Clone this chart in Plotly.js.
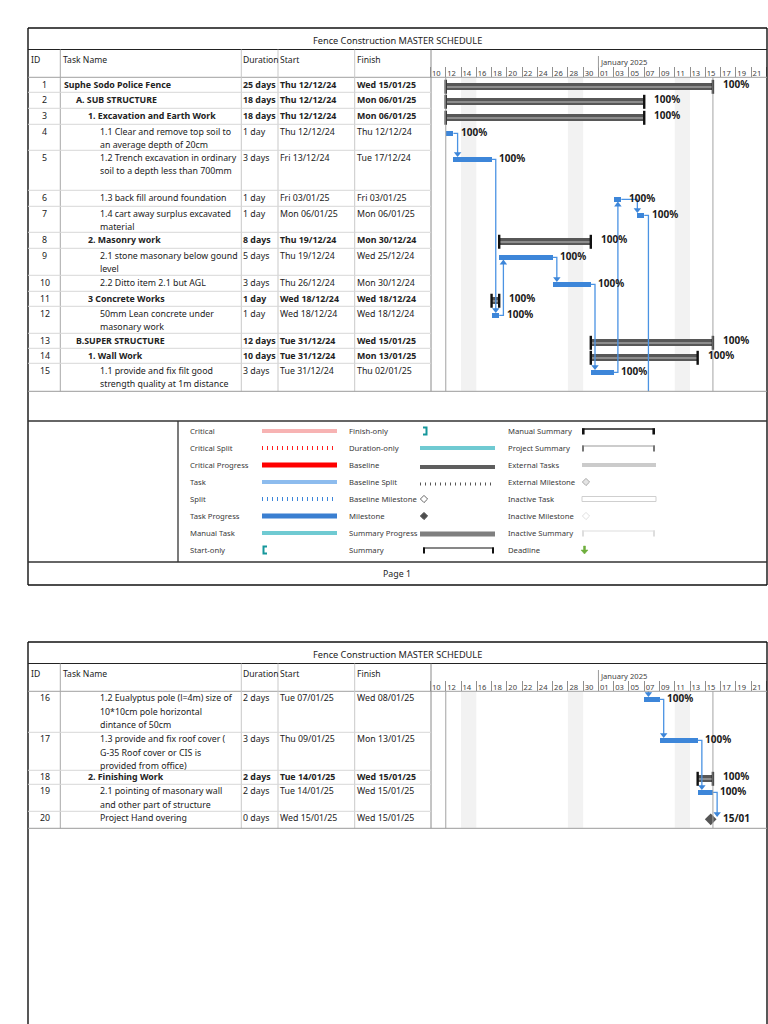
<!DOCTYPE html>
<html>
<head>
<meta charset="utf-8">
<title>Fence Construction MASTER SCHEDULE</title>
<script src="https://cdn.plot.ly/plotly-3.0.1.min.js"></script>
<style>
html,body{margin:0;padding:0;background:#ffffff;}
#chart{width:768px;height:1024px;}
</style>
</head>
<body>
<div id="chart"></div>
<script>
// ================= DATA =================
const chartTitle = 'Fence Construction MASTER SCHEDULE';
const columnHeaders = ['ID', 'Task Name', 'Duration', 'Start', 'Finish'];
const monthLabel = 'January 2025';
const pageLabel = 'Page 1';

const taskIds = [1, 2, 3, 4, 5, 6, 7, 8, 9, 10, 11, 12, 13, 14, 15, 16, 17, 18, 19, 20];
const taskNames = [
  'Suphe Sodo Police Fence',
  'A. SUB STRUCTURE',
  '1. Excavation and Earth Work',
  '1.1 Clear and remove top soil to\nan average depth of 20cm',
  '1.2 Trench excavation in ordinary\nsoil to a depth less than 700mm',
  '1.3 back fill around foundation',
  '1.4 cart away surplus excavated\nmaterial',
  '2. Masonry work',
  '2.1 stone masonary below gound\nlevel',
  '2.2 Ditto item 2.1 but AGL',
  '3 Concrete Works',
  '50mm Lean concrete under\nmasonary work',
  'B.SUPER STRUCTURE',
  '1. Wall Work',
  '1.1 provide and fix filt good\nstrength quality at 1m distance',
  '1.2 Eualyptus pole (l=4m) size of\n10*10cm pole horizontal\ndintance of 50cm',
  '1.3 provide and fix roof cover (\nG-35 Roof cover or CIS is\nprovided from office)',
  '2. Finishing Work',
  '2.1 pointing of masonary wall\nand other part of structure',
  'Project Hand overing'
];
const outlineLevel = [0, 1, 2, 3, 3, 3, 3, 2, 3, 3, 2, 3, 1, 2, 3, 3, 3, 2, 3, 3];
const summaryTask = [1, 1, 1, 0, 0, 0, 0, 1, 0, 0, 1, 0, 1, 1, 0, 0, 0, 1, 0, 0];
const durationText = ['25 days', '18 days', '18 days', '1 day', '3 days', '1 day', '1 day', '8 days', '5 days', '3 days',
  '1 day', '1 day', '12 days', '10 days', '3 days', '2 days', '3 days', '2 days', '2 days', '0 days'];
const startText = ['Thu 12/12/24', 'Thu 12/12/24', 'Thu 12/12/24', 'Thu 12/12/24', 'Fri 13/12/24', 'Fri 03/01/25',
  'Mon 06/01/25', 'Thu 19/12/24', 'Thu 19/12/24', 'Thu 26/12/24', 'Wed 18/12/24', 'Wed 18/12/24', 'Tue 31/12/24',
  'Tue 31/12/24', 'Tue 31/12/24', 'Tue 07/01/25', 'Thu 09/01/25', 'Tue 14/01/25', 'Tue 14/01/25', 'Wed 15/01/25'];
const finishText = ['Wed 15/01/25', 'Mon 06/01/25', 'Mon 06/01/25', 'Thu 12/12/24', 'Tue 17/12/24', 'Fri 03/01/25',
  'Mon 06/01/25', 'Mon 30/12/24', 'Wed 25/12/24', 'Mon 30/12/24', 'Wed 18/12/24', 'Wed 18/12/24', 'Wed 15/01/25',
  'Mon 13/01/25', 'Thu 02/01/25', 'Wed 08/01/25', 'Mon 13/01/25', 'Wed 15/01/25', 'Wed 15/01/25', 'Wed 15/01/25'];
const percentComplete = [100, 100, 100, 100, 100, 100, 100, 100, 100, 100, 100, 100, 100, 100, 100, 100, 100, 100, 100, 100];
const predecessorIds = [[], [], [], [], [4], [15], [6], [], [12], [9], [], [5], [], [], [10], [7], [16], [], [17], [19]];
const shadedNonWorking = ['2024-12-14', '2024-12-28', '2025-01-11'];   // two-day shaded periods

const legendLabels = [
  ['Critical', 'Critical Split', 'Critical Progress', 'Task', 'Split', 'Task Progress', 'Manual Task', 'Start-only'],
  ['Finish-only', 'Duration-only', 'Baseline', 'Baseline Split', 'Baseline Milestone', 'Milestone', 'Summary Progress', 'Summary'],
  ['Manual Summary', 'Project Summary', 'External Tasks', 'External Milestone', 'Inactive Task', 'Inactive Milestone', 'Inactive Summary', 'Deadline']
];

// ================= LAYOUT / STYLE =================
const W = 768, H = 1024;
const DAY = 86400000;
const FONT = '"Noto Sans", "Open Sans", sans-serif';
const TXT = '#222222';
const BLUE = '#3d86d9';
const TABLE_FS = 8.8;
const px = x => x / W;

const rowHeight = [15, 16, 16, 26, 40, 16, 26, 16, 27, 16, 15, 27, 15, 15, 28, 41, 38, 14, 27, 17];
const pageOf = taskIds.map(id => (id <= 15 ? 0 : 1));
const pageCfg = [
  { top: 28, bottom: 585, lineOffset: 8, lineGap: 12.4, xa: 'x', xref: 'x' },
  { top: 642, bottom: 1024, lineOffset: 7, lineGap: 13.2, xa: 'x2', xref: 'x2' }
];
pageCfg.forEach(p => {
  p.titleY = p.top + 12.3; p.titleLine = p.top + 21.5; p.headY = p.top + 32.3;
  p.monthY = p.top + 34.4; p.headerBottom = p.top + 49.3;
});
const colLineX = [60.3, 241.3, 278, 354.7];
const ganttLeft = 431, frameL = 28, frameR = 767;
const textX = { id: 44.5, name: 62.5, indent: 12, dur: 242, start: 279, finish: 355.5 };
const headX = [29.5, 62, 242, 279, 355.5];

// ================= HELPERS =================
function dayMs(s) {
  const d = s.split(' ')[1].split('/');
  return Date.UTC(2000 + Number(d[2]), Number(d[1]) - 1, Number(d[0]));
}
function iso(ms) {
  const d = new Date(ms), p = n => String(n).padStart(2, '0');
  return d.getUTCFullYear() + '-' + p(d.getUTCMonth() + 1) + '-' + p(d.getUTCDate()) + ' ' + p(d.getUTCHours()) + ':' + p(d.getUTCMinutes());
}
const shapes = [], annotations = [];
function hline(x0, x1, y, color, width) {
  shapes.push({ type: 'line', xref: 'paper', yref: 'y', x0: px(x0), x1: px(x1), y0: y, y1: y, line: { color, width } });
}
function vline(x, y0, y1, color, width) {
  shapes.push({ type: 'line', xref: 'paper', yref: 'y', x0: px(x), x1: px(x), y0, y1, line: { color, width } });
}
function label(x, y, t, o = {}) {
  annotations.push({
    xref: 'paper', yref: 'y', x: px(x), y, text: t, showarrow: false,
    xanchor: o.anchor || 'left', yanchor: 'middle', borderpad: 0,
    font: { family: FONT, size: o.size || TABLE_FS, color: o.color || TXT, weight: o.bold ? 'bold' : 'normal' }
  });
}

// ================= DERIVED VALUES =================
const isMilestone = durationText.map(d => parseFloat(d) === 0);
const startMs = startText.map(dayMs);
const endMs = finishText.map((f, i) => (isMilestone[i] ? dayMs(f) + 17 * 3600000 : dayMs(f) + DAY));

const rowTop = [], textY = [], barY = [];
const cursor = pageCfg.map(p => p.headerBottom);
taskIds.forEach((id, i) => {
  const pg = pageOf[i];
  rowTop[i] = cursor[pg];
  cursor[pg] += rowHeight[i];
  textY[i] = rowTop[i] + pageCfg[pg].lineOffset;
  barY[i] = textY[i] + (summaryTask[i] ? 1.5 : 1);
});
pageCfg.forEach((p, k) => { p.tableBottom = cursor[k]; });

// ================= FRAMES, GRID, TABLE TEXT =================
pageCfg.forEach((p, k) => {
  hline(frameL, frameR, p.top, '#111', 1.4);
  vline(frameL, p.top, p.bottom, '#111', 1.4);
  vline(frameR, p.top, p.bottom, '#111', 1.4);
  if (k === 0) hline(frameL, frameR, p.bottom, '#111', 1.4);
  hline(frameL, frameR, p.titleLine, '#222', 1.1);
  hline(frameL, frameR, p.headerBottom, '#a0a0a0', 1);
  colLineX.forEach((x, j) => vline(x, p.titleLine, p.tableBottom, j === 0 ? '#a8a8a8' : '#c9c9c9', 1));
  vline(ganttLeft, p.titleLine, p.tableBottom, '#8a8a8a', 1);
  hline(frameL, frameR, p.tableBottom, '#9a9a9a', 1);

  label(397.5, p.titleY, chartTitle, { anchor: 'center', size: 9.2 });
  columnHeaders.forEach((h, j) => label(headX[j], p.headY, h, { size: 8.6 }));

  annotations.push({
    xref: p.xref, yref: 'y', x: '2025-01-01', y: p.monthY, text: monthLabel, showarrow: false,
    xanchor: 'left', yanchor: 'middle', xshift: 1, borderpad: 0,
    font: { family: FONT, size: 7.6, color: '#444' }
  });
  shapes.push({ type: 'line', xref: p.xref, yref: 'y', x0: '2025-01-01', x1: '2025-01-01',
    y0: p.top + 28, y1: p.top + 40, line: { color: '#9a9a9a', width: 1 } });

  shadedNonWorking.forEach(d => {
    const s = Date.parse(d + 'T00:00:00Z');
    shapes.push({ type: 'rect', xref: p.xref, yref: 'y', layer: 'below', x0: iso(s), x1: iso(s + 2 * DAY),
      y0: p.headerBottom + 0.5, y1: p.tableBottom - 0.5, fillcolor: '#f2f2f2', line: { width: 0 } });
  });
  [startMs[0], endMs[0]].forEach(t => {
    shapes.push({ type: 'line', xref: p.xref, yref: 'y', x0: iso(t), x1: iso(t),
      y0: p.headerBottom, y1: p.tableBottom, line: { color: '#a3a3a3', width: 1 } });
  });
});

taskIds.forEach((id, i) => {
  const p = pageCfg[pageOf[i]];
  const bold = !!summaryTask[i];
  const bottom = rowTop[i] + rowHeight[i];
  if (bottom < p.tableBottom - 0.5) hline(frameL, ganttLeft, bottom, '#d7d7d7', 1);
  label(textX.id, textY[i], String(id), { anchor: 'center' });
  taskNames[i].split('\n').forEach((ln, j) =>
    label(textX.name + textX.indent * outlineLevel[i], textY[i] + j * p.lineGap, ln, { bold }));
  label(textX.dur, textY[i], durationText[i], { bold });
  label(textX.start, textY[i], startText[i], { bold });
  label(textX.finish, textY[i], finishText[i], { bold });
});

// ================= GANTT TRACES =================
const traces = [];
[0, 1].forEach(pg => {
  const xa = pageCfg[pg].xa;
  const idx = taskIds.map((_, i) => i).filter(i => pageOf[i] === pg);
  const sum = idx.filter(i => summaryTask[i] && !isMilestone[i]);
  const tsk = idx.filter(i => !summaryTask[i] && !isMilestone[i]);
  const ms = idx.filter(i => isMilestone[i]);

  const cx = [], cy = [], ax = [], ay = [], asym = [];
  idx.forEach(i => {
    predecessorIds[i].forEach(pid => {
      const j = taskIds.indexOf(pid);
      const xV = Math.max(endMs[j] + 0.55 * DAY, startMs[i] + 0.1 * DAY);
      const down = pageOf[j] !== pageOf[i] || barY[i] > barY[j];
      const yEnd = down ? barY[i] - 5.5 : barY[i] + 5.5;
      if (pageOf[j] === pg) {
        cx.push(iso(endMs[j]), iso(xV), iso(xV), null);
        cy.push(barY[j], barY[j], yEnd, null);
      } else {
        cx.push(iso(xV), iso(xV), null);
        cy.push(pageCfg[pg].headerBottom, yEnd, null);
      }
      ax.push(iso(xV)); ay.push(yEnd); asym.push(down ? 'triangle-down' : 'triangle-up');
    });
  });
  taskIds.forEach((id, i) => {
    if (pageOf[i] === pg) return;
    predecessorIds[i].forEach(pid => {
      const j = taskIds.indexOf(pid);
      if (pageOf[j] !== pg) return;
      const xV = Math.max(endMs[j] + 0.55 * DAY, startMs[i] + 0.1 * DAY);
      cx.push(iso(endMs[j]), iso(xV), iso(xV), null);
      cy.push(barY[j], barY[j], pageCfg[pg].tableBottom, null);
    });
  });
  traces.push({ type: 'scatter', mode: 'lines', xaxis: xa, yaxis: 'y', x: cx, y: cy,
    line: { color: '#4b93e3', width: 1.3 }, hoverinfo: 'skip', showlegend: false });
  traces.push({ type: 'scatter', mode: 'markers', xaxis: xa, yaxis: 'y', x: ax, y: ay,
    marker: { symbol: asym, size: 6.5, color: BLUE }, hoverinfo: 'skip', showlegend: false });

  traces.push({ type: 'bar', orientation: 'h', xaxis: xa, yaxis: 'y', width: 7,
    y: sum.map(i => barY[i]), base: sum.map(i => iso(startMs[i])), x: sum.map(i => endMs[i] - startMs[i]),
    marker: { color: '#575757', line: { width: 0 } }, hoverinfo: 'skip', showlegend: false });
  traces.push({ type: 'bar', orientation: 'h', xaxis: xa, yaxis: 'y', width: 2.6,
    y: sum.map(i => barY[i]), base: sum.map(i => iso(startMs[i])), x: sum.map(i => endMs[i] - startMs[i]),
    marker: { color: '#8d8d8d', line: { width: 0 } }, hoverinfo: 'skip', showlegend: false });
  traces.push({ type: 'scatter', mode: 'markers', xaxis: xa, yaxis: 'y',
    x: sum.flatMap(i => [iso(startMs[i]), iso(endMs[i])]), y: sum.flatMap(i => [barY[i], barY[i]]),
    marker: { symbol: 'line-ns', size: 10, line: { color: '#111', width: 2.4 } }, hoverinfo: 'skip', showlegend: false });

  traces.push({ type: 'bar', orientation: 'h', xaxis: xa, yaxis: 'y', width: 5,
    y: tsk.map(i => barY[i]), base: tsk.map(i => iso(startMs[i])), x: tsk.map(i => endMs[i] - startMs[i]),
    marker: { color: BLUE, line: { width: 0 } }, hoverinfo: 'skip', showlegend: false });

  traces.push({ type: 'scatter', mode: 'markers', xaxis: xa, yaxis: 'y',
    x: ms.map(i => iso(endMs[i])), y: ms.map(i => barY[i]),
    marker: { symbol: 'diamond', size: 9, color: '#555555' }, hoverinfo: 'skip', showlegend: false });

  idx.forEach(i => {
    const d = new Date(dayMs(finishText[i]));
    const txt = isMilestone[i]
      ? String(d.getUTCDate()).padStart(2, '0') + '/' + String(d.getUTCMonth() + 1).padStart(2, '0')
      : percentComplete[i] + '%';
    annotations.push({
      xref: xa, yref: 'y', x: iso(endMs[i]), y: barY[i], text: txt, showarrow: false,
      xanchor: 'left', yanchor: 'middle', borderpad: 0,
      xshift: isMilestone[i] ? 11 : (summaryTask[i] ? 9 : 6.5), yshift: summaryTask[i] ? 2.5 : 1,
      font: { family: FONT, size: 10, color: '#1a1a1a', weight: 'bold' }
    });
  });
});

// ================= LEGEND (page 1) =================
const legTop = 421, legBottom = 562;
hline(frameL, frameR, legTop, '#333', 1.3);
hline(frameL, frameR, legBottom, '#333', 1.3);
vline(178, legTop, legBottom, '#333', 1.3);
label(397, 573.5, pageLabel, { anchor: 'center', size: 8.8 });

const legStyle = [
  [{ k: 'bar', c: '#f7b3b3', h: 4 }, { k: 'split', c: '#ff1f1f' }, { k: 'bar', c: '#ff0000', h: 5 }, { k: 'bar', c: '#8dbcee', h: 4 },
   { k: 'split', c: '#3d86d9' }, { k: 'bar', c: '#3a7fd1', h: 5 }, { k: 'bar', c: '#6fcad2', h: 4 }, { k: 'start', c: '#16979c' }],
  [{ k: 'finish', c: '#16979c' }, { k: 'bar', c: '#6fcad2', h: 4 }, { k: 'bar', c: '#5e5e5e', h: 4, dy: 2 }, { k: 'split', c: '#555', dy: 2, w: 3 },
   { k: 'diamond', fill: '#ffffff', line: '#666' }, { k: 'diamond', fill: '#4d4d4d', line: '#4d4d4d' }, { k: 'bar', c: '#7f7f7f', h: 5, dy: 1 },
   { k: 'summary', c: '#111', cap: '#111', inset: 3 }],
  [{ k: 'summary', c: '#222', cap: '#111', thick: true }, { k: 'summary', c: '#9a9a9a', cap: '#777' }, { k: 'bar', c: '#cbcbcb', h: 4 },
   { k: 'diamond', fill: '#e4e4e4', line: '#a8a8a8' }, { k: 'outline', c: '#cfcfcf' }, { k: 'diamond', fill: '#ffffff', line: '#e0e0e0' },
   { k: 'summary', c: '#dedede', cap: '#dedede' }, { k: 'deadline', c: '#6eae3c' }]
];
const legLabelX = [189, 348, 507], legX0 = [262, 420, 582], legX1 = [337, 495, 656];
const path = (pts, close) => pts.map((p, i) => (i ? 'L' : 'M') + px(p[0]).toFixed(5) + ',' + p[1]).join(' ') + (close ? ' Z' : '');
legendLabels.forEach((col, c) => col.forEach((lab, r) => {
  const y = 431 + 17 * r;
  label(legLabelX[c], y, lab, { size: 7.7, color: '#3a3a3a' });
  const s = legStyle[c][r], x0 = legX0[c], x1 = legX1[c], dy = s.dy || 0;
  if (s.k === 'bar') {
    shapes.push({ type: 'rect', xref: 'paper', yref: 'y', x0: px(x0), x1: px(x1), y0: y + dy - s.h / 2, y1: y + dy + s.h / 2, fillcolor: s.c, line: { width: 0 } });
  } else if (s.k === 'split') {
    shapes.push({ type: 'line', xref: 'paper', yref: 'y', x0: px(x0), x1: px(x1), y0: y + dy, y1: y + dy, line: { color: s.c, width: s.w || 4, dash: '1px,4px' } });
  } else if (s.k === 'outline') {
    shapes.push({ type: 'rect', xref: 'paper', yref: 'y', x0: px(x0), x1: px(x1), y0: y - 2.5, y1: y + 2.5, fillcolor: '#fff', line: { color: s.c, width: 1 } });
  } else if (s.k === 'start') {
    shapes.push({ type: 'path', xref: 'paper', yref: 'y', path: path([[x0 + 5, y - 3.5], [x0 + 1.5, y - 3.5], [x0 + 1.5, y + 3.5], [x0 + 5, y + 3.5]]), line: { color: s.c, width: 2 } });
  } else if (s.k === 'finish') {
    shapes.push({ type: 'path', xref: 'paper', yref: 'y', path: path([[x0 + 3, y - 3.5], [x0 + 6.5, y - 3.5], [x0 + 6.5, y + 3.5], [x0 + 3, y + 3.5]]), line: { color: s.c, width: 2 } });
  } else if (s.k === 'diamond') {
    const cx = x0 + 4, r = 3.6;
    shapes.push({ type: 'path', xref: 'paper', yref: 'y', path: path([[cx, y - r], [cx + r, y], [cx, y + r], [cx - r, y]], true), fillcolor: s.fill, line: { color: s.line, width: 1 } });
  } else if (s.k === 'summary') {
    const a = x0 + (s.inset || 0), b = x1 - 1, cw = s.thick ? 2.6 : 2;
    shapes.push({ type: 'line', xref: 'paper', yref: 'y', x0: px(a), x1: px(b), y0: y - 2, y1: y - 2, line: { color: s.c, width: s.thick ? 1.6 : 1.2 } });
    shapes.push({ type: 'rect', xref: 'paper', yref: 'y', x0: px(a), x1: px(a + cw), y0: y - 2.6, y1: y + 3.5, fillcolor: s.cap, line: { width: 0 } });
    shapes.push({ type: 'rect', xref: 'paper', yref: 'y', x0: px(b - cw), x1: px(b), y0: y - 2.6, y1: y + 3.5, fillcolor: s.cap, line: { width: 0 } });
  } else if (s.k === 'deadline') {
    const cx = x0 + 2.5;
    shapes.push({ type: 'path', xref: 'paper', yref: 'y', path: path([[cx - 1, y - 4], [cx + 1, y - 4], [cx + 1, y], [cx + 3.5, y], [cx, y + 4], [cx - 3.5, y], [cx - 1, y]], true), fillcolor: s.c, line: { color: s.c, width: 0.5 } });
  }
}));

// ================= AXES =================
const timeAxis = (pos, extra) => Object.assign({
  type: 'date', domain: [px(430.5), px(767)], range: ['2024-12-10 00:00', '2025-01-23 02:00'],
  anchor: 'free', position: pos, side: 'top',
  tick0: '2024-12-10', dtick: 2 * DAY, tickformat: '%d', ticklabelmode: 'period',
  ticks: 'outside', ticklen: 10, tickcolor: '#8f8f8f', tickwidth: 1,
  ticklabelstandoff: -12, ticklabelshift: 2,
  tickfont: { family: FONT, size: 7.6, color: '#444' },
  showgrid: false, zeroline: false, showline: false, fixedrange: true
}, extra || {});

const layout = {
  width: W, height: H, margin: { l: 0, r: 0, t: 0, b: 0, pad: 0 },
  paper_bgcolor: '#ffffff', plot_bgcolor: 'rgba(0,0,0,0)',
  showlegend: false, barmode: 'overlay', bargap: 0,
  xaxis: timeAxis(1 - pageCfg[0].headerBottom / H),
  xaxis2: timeAxis(1 - pageCfg[1].headerBottom / H, { matches: 'x' }),
  yaxis: { range: [H, 0], domain: [0, 1], visible: false, fixedrange: true },
  shapes, annotations
};

Plotly.newPlot('chart', traces, layout, { staticPlot: true, displayModeBar: false });
</script>
</body>
</html>
